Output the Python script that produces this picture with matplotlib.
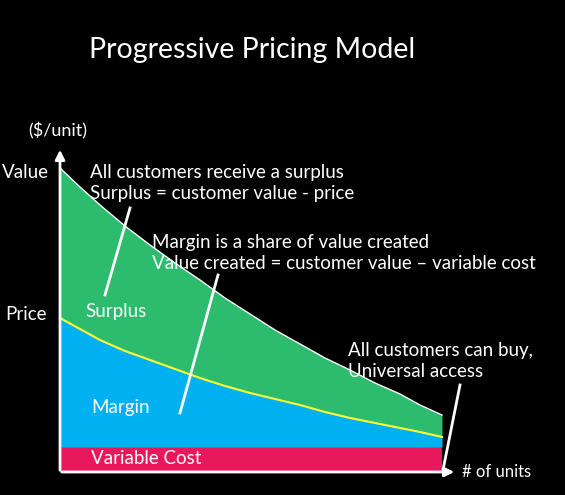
import matplotlib.pyplot as plt

# curve points (x: units along axis, y: height above axis)
x = [0, 20, 40, 65, 90, 115, 140, 165, 190, 215, 240, 265, 290, 315, 340, 360, 382]
value = [304, 285, 267, 246, 227, 209, 192, 174, 158, 142, 128, 114, 102, 89, 78, 67, 57]
price = [154, 143, 132, 121, 112, 103, 94, 86, 79, 73, 67, 60, 54, 49, 44, 40, 35]
variable_cost = 25

plt.rcParams['font.family'] = ['Lato', 'DejaVu Sans']
fig = plt.figure(figsize=(5.65, 4.95), dpi=100, facecolor='black')
ax = fig.add_axes([0, 0, 1, 1])
ax.set_facecolor('black')
ax.set_xlim(-60, 505)
ax.set_ylim(-23, 472)
ax.axis('off')

vc = [variable_cost] * len(x)
ax.fill_between(x, 0, vc, color='#e8185c', lw=0)
ax.fill_between(x, vc, price, color='#00b0f0', lw=0)
ax.fill_between(x, price, value, color='#2dbb6e', lw=0)
ax.plot(x, price, color='#ffff33', lw=1.5)
ax.plot(x, value, color='white', lw=1)

# axes with arrows
ax.annotate('', xy=(0, 325), xytext=(0, -1),
            arrowprops=dict(arrowstyle='-|>', color='white', lw=2, mutation_scale=14))
ax.annotate('', xy=(397, 0), xytext=(-1, 0),
            arrowprops=dict(arrowstyle='-|>', color='white', lw=2, mutation_scale=14))

# pointer lines
ax.plot([45, 70], [177, 264], color='white', lw=2)
ax.plot([120, 158], [59, 197], color='white', lw=2)
ax.plot([383, 400], [2, 87], color='white', lw=2)

w = dict(color='white')
ax.text(192, 422, 'Progressive Pricing Model', fontsize=20.5, ha='center', va='center', **w)
ax.text(-2, 341, '($/unit)', fontsize=13, ha='center', va='center', **w)
ax.text(-35, 300, 'Value', fontsize=13.5, ha='center', va='center', **w)
ax.text(-34, 157, 'Price', fontsize=13.5, ha='center', va='center', **w)
ax.text(30, 289, 'All customers receive a surplus\nSurplus = customer value - price',
        fontsize=13.5, ha='left', va='center', linespacing=1.25, **w)
ax.text(92, 219, 'Margin is a share of value created\nValue created = customer value \u2013 variable cost',
        fontsize=13.5, ha='left', va='center', linespacing=1.25, **w)
ax.text(56, 161, 'Surplus', fontsize=13.5, ha='center', va='center', **w)
ax.text(61, 65, 'Margin', fontsize=13.5, ha='center', va='center', **w)
ax.text(86, 13, 'Variable Cost', fontsize=13.5, ha='center', va='center', **w)
ax.text(288, 111, 'All customers can buy,\nUniversal access',
        fontsize=13.5, ha='left', va='center', linespacing=1.25, **w)
ax.text(402, 0, '# of units', fontsize=12, ha='left', va='center', **w)

fig.savefig('out.png', dpi=100, facecolor='black')
